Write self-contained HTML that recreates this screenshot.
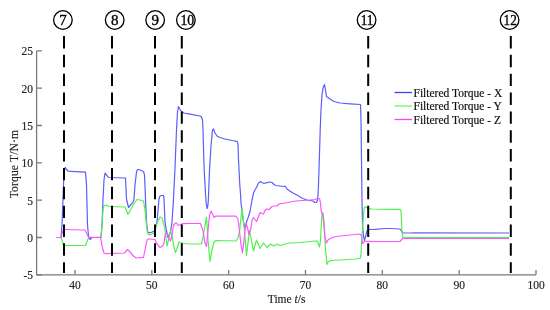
<!DOCTYPE html>
<html><head><meta charset="utf-8"><title>Filtered Torque</title>
<style>html,body{margin:0;padding:0;background:#fff;} body{width:550px;height:310px;overflow:hidden;} svg{display:block;}</style>
</head><body>
<svg width="550" height="310" viewBox="0 0 550 310">
<g stroke="#7a7a7a" stroke-width="1.3" fill="none">
<path d="M36.6,51 V274.8 H536"/>
<path d="M75.00,274.8 V270.1 M151.83,274.8 V270.1 M228.67,274.8 V270.1 M305.50,274.8 V270.1 M382.33,274.8 V270.1 M459.17,274.8 V270.1 M536.00,274.8 V270.1 M36.6,274.83 H42 M36.6,237.50 H42 M36.6,200.17 H42 M36.6,162.83 H42 M36.6,125.50 H42 M36.6,88.17 H42 M36.6,50.83 H42"/>
</g>
<g font-family="'Liberation Serif', serif" font-size="11.5" fill="#222" stroke="#222" stroke-width="0.15">
<text x="75.00" y="289.4" text-anchor="middle">40</text>
<text x="151.83" y="289.4" text-anchor="middle">50</text>
<text x="228.67" y="289.4" text-anchor="middle">60</text>
<text x="305.50" y="289.4" text-anchor="middle">70</text>
<text x="382.33" y="289.4" text-anchor="middle">80</text>
<text x="459.17" y="289.4" text-anchor="middle">90</text>
<text x="536.00" y="289.4" text-anchor="middle">100</text>
<text x="33" y="279.43" text-anchor="end">-5</text>
<text x="33" y="242.10" text-anchor="end">0</text>
<text x="33" y="204.77" text-anchor="end">5</text>
<text x="33" y="167.43" text-anchor="end">10</text>
<text x="33" y="130.10" text-anchor="end">15</text>
<text x="33" y="92.77" text-anchor="end">20</text>
<text x="33" y="55.43" text-anchor="end">25</text>
<text x="286.6" y="303" text-anchor="middle">Time <tspan font-style="italic">t</tspan>/s</text>
<text transform="translate(17.5,164.1) rotate(-90)" text-anchor="middle" letter-spacing="0.17">Torque T/N·m</text>
</g>
<polyline points="56.5,237.5 61,237.5 62,225 63.3,190 64,172 65.2,167.3 66.5,169.5 68.5,171.2 75,171.6 85.5,172.2 86.5,185 87.5,225 88.5,236 90,239.5 92,237.5 101,237.5 102,225 103,199 104,180 105,173.2 106.5,175 108.5,177.5 125.5,178 126.5,199 128.5,207.5 131,204.5 133,202 134,199 135,185 136.5,172 137.5,169.5 139,169.5 143.5,171.5 144.5,175 145.5,199 146.5,222 147.5,231 149,233 152,232 154.5,231 156,226 157,222 159,199 160,196 161.5,195.5 163.5,195.5 164,199 165,222 166.5,231 168,237.5 170.5,232 172,222 173.5,199 175,168 176.5,130 177.5,112 178.5,106.5 179.5,108.5 181,111 184,113 190,114.2 200,116 201.5,117 202.5,120 203,130 204,165 205,185 206,201 206.6,206 207.2,208.5 207.8,206 208.3,201 209.5,170 211,146 212.5,130 213.5,129 215,133 217,136 220,137.5 225,139 232,140.5 237,141.3 238,144 238.5,160 239.8,185 240.6,195 241,203 242,210.5 243.5,222 245,228.5 246.5,222 248,218 250,211.5 251,206 252,200 253.5,193 255,190 257,186.5 258.5,183 260.5,181.5 262,182.5 264,183.5 266,182.8 270,182 272,182.5 274,184.5 276,185.5 280,186 284,186.5 285,186 287,189 289,190.5 293,193 297,195 300,197 303,198.5 307,200 310,200.5 313,201 315,202.5 316.5,202.5 317.5,200 318,195 318.5,185 319.3,160 320.2,130 321,110 322,95 323,88 324.5,84.5 325.5,90 326.5,96.5 330,99 334,101.5 340,103 350,103.8 360.5,104.5 361,120 361.5,160 362,200 362.5,225 363.5,236 364.5,240.5 367,231 369,229.5 375,229.3 385,228.5 390,228.5 400,229 402,232 403,233 410,233 415,232.9 509,233" fill="none" stroke="#5c5cff" stroke-width="1.2" stroke-linejoin="round"/>
<polyline points="56.5,237.5 61,237.5 62.5,242 63.5,245 65,245.5 85.5,245.5 87,241.5 88.5,238 90,237.5 101,237.5 102,225 103,210 104,205.5 106,205 109,206.5 125,207 128,214.5 131,209 135,202 137,199.5 140,200 143.5,201 145,210 146.5,225 147.5,233 148.5,234.5 150,235 154.5,232.4 156,227 157.5,222 160,217 162,218 164,225 165,230 167,246 168.5,240 170.5,231 172,235 173.5,245 175.5,252.5 177.5,247 179,242 181,242.5 183,243.5 190,244 201.5,244 203,237 206.5,217 208,240 210,261.5 212,250 214,242 216,240.5 236,241 238,238 239.5,231 242,208.5 244.5,231 246.5,255.5 249.5,230.5 253.5,251 256.5,240 260,248.5 263.5,243 267,247.5 270.5,244 273.5,246 277,244 280,245.5 285,244 290,243 300,242.5 310,241.5 317,241 318,243 319.5,247 320.5,240 322,213 323,213 324,221 325.5,250 327,264.5 328,262 330.5,260.5 340,260 355,259 360,258.5 361,255 362,235 362.5,230 363.5,215 364.5,207 366,207 368,208.5 372,209 390,209.3 400,209.3 401,211 402,231 403,238 405,237.5 509,237.6" fill="none" stroke="#50f050" stroke-width="1.2" stroke-linejoin="round"/>
<polyline points="56.5,237.5 61,237.5 62.5,232 63.5,229.5 65,229.5 85,230 87,234 88.5,237.3 100.5,237.3 102.5,248 104,253 106,253.7 124.5,253 127.5,249.5 130,252 133,255.5 136,258 143.5,257.3 145,250 147,240 148.5,239 150,239 155,239.5 157,244 160,247.5 162.5,246 164,243 165,235 166,233 167.5,234 169,239 170.5,241 172,235 173.5,225 175.5,223 176.5,223.2 178,225.1 180,225 181,224.2 183,223.6 190,223.5 200.5,223.5 203,231 205,243 206.5,246.5 208,231 209.5,215 211,211 213,215 214,217.5 216,216 236,216.2 238,219 239.5,231 241,245 242.5,253 244,240 245,231 246,223.5 247.5,228 249,234.5 251,228 252,220 253.5,217.5 255,219.5 256.5,221.5 258,218 259.5,213.5 260.5,212.5 262,213.5 263.5,214 265,210.5 266.5,209 269,209.5 272,206.5 274,206 277,206 279,204 282,203.5 285,203 288,202.5 292,201.5 296,201 302,200.5 310,200 315,199.5 317.5,198.5 319.5,198.5 320.5,203 321,210 321.5,212 322.5,213 323.5,221 325,238 326.5,243 328,240 331,238 336,236.5 345,235.5 355,234.5 360,234 361.5,236 362.5,243.5 364,242 366,241.3 380,241.5 400,241.5 402.5,238.5 405,238.5 509,238.5" fill="none" stroke="#ff55ff" stroke-width="1.2" stroke-linejoin="round"/>
<g stroke="#000" stroke-width="2" stroke-dasharray="12.4 6.45">
<line x1="64" y1="36" x2="64" y2="273"/>
<line x1="112" y1="36" x2="112" y2="273"/>
<line x1="155" y1="36" x2="155" y2="273"/>
<line x1="181.8" y1="36" x2="181.8" y2="273"/>
<line x1="368.2" y1="36" x2="368.2" y2="273"/>
<line x1="510.8" y1="36" x2="510.8" y2="273"/>
</g>
<g fill="none" stroke="#000" stroke-width="1.3">
<circle cx="62.9" cy="20" r="9.3"/>
<circle cx="114.7" cy="20" r="9.3"/>
<circle cx="155.15" cy="20" r="9.3"/>
<circle cx="185.9" cy="20" r="9.3"/>
<circle cx="366.6" cy="20" r="9.3"/>
<circle cx="509.6" cy="20" r="9.3"/>
</g>
<g font-family="'Liberation Serif', serif" font-size="15" fill="#000" stroke="#000" stroke-width="0.35" text-anchor="middle">
<text x="62.9" y="25.0">7</text>
<text x="114.7" y="25.0">8</text>
<text x="155.15" y="25.0">9</text>
<text transform="translate(187.3,25.0) scale(0.92,1)">10</text>
<text transform="translate(367,25.0) scale(0.88,1)">11</text>
<text transform="translate(510.2,25.0) scale(0.88,1)">12</text>
</g>
<g stroke-width="1.3">
<line x1="394.5" y1="92.5" x2="412" y2="92.5" stroke="#4040ff"/>
<line x1="394.5" y1="106" x2="412" y2="106" stroke="#60ff60"/>
<line x1="394.5" y1="119.5" x2="412" y2="119.5" stroke="#ff40ff"/>
</g>
<g font-family="'Liberation Serif', serif" font-size="11.5" fill="#111" stroke="#111" stroke-width="0.18">
<text x="413.5" y="96.5">Filtered Torque - X</text>
<text x="413.5" y="110">Filtered Torque - Y</text>
<text x="413.5" y="123.5">Filtered Torque - Z</text>
</g>
</svg>
</body></html>
